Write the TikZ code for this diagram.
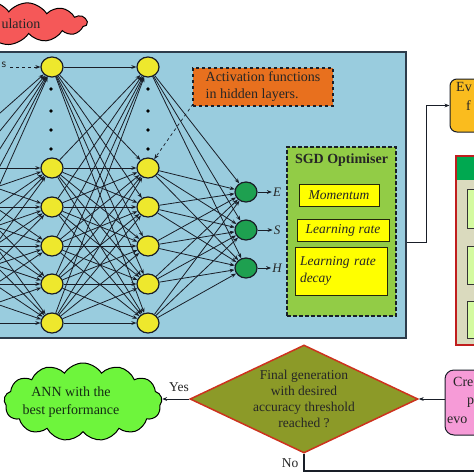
\documentclass[tikz,border=0pt]{standalone}
\usepackage{fontspec}
\setmainfont{Liberation Serif}
\usetikzlibrary{shapes.geometric,shapes.symbols,arrows.meta,calc}
\definecolor{panelblue}{RGB}{153,204,222}
\definecolor{panelborder}{RGB}{45,60,75}
\definecolor{nodeyellow}{RGB}{238,232,45}
\definecolor{nodegreen}{RGB}{30,160,80}
\definecolor{actorange}{RGB}{232,112,30}
\definecolor{sgdgreen}{RGB}{146,204,70}
\definecolor{boxyellow}{RGB}{255,255,0}
\definecolor{evalorange}{RGB}{250,188,30}
\definecolor{redborder}{RGB}{192,30,30}
\definecolor{beige}{RGB}{218,218,190}
\definecolor{headergreen}{RGB}{0,168,80}
\definecolor{lightgreen}{RGB}{212,250,160}
\definecolor{pinkbox}{RGB}{246,155,215}
\definecolor{olive}{RGB}{140,154,40}
\definecolor{diaborder}{RGB}{205,50,30}
\definecolor{cloudgreen}{RGB}{110,245,60}
\definecolor{cloudred}{RGB}{245,88,88}
\definecolor{ink}{RGB}{25,30,40}
\pgfdeclarelayer{bg}
\pgfdeclarelayer{edges}
\pgfsetlayers{bg,edges,main}
\begin{document}
\begin{tikzpicture}[x=1pt,y=-1pt,
  txt/.style={font=\fontsize{13.5}{16.5}\selectfont, text=black!85},
  hid/.style={ellipse, draw=ink, line width=1.2pt, fill=nodeyellow, minimum width=22pt, minimum height=20pt, inner sep=0pt},
  outn/.style={ellipse, draw=ink, line width=1.2pt, fill=nodegreen, minimum width=22pt, minimum height=20pt, inner sep=0pt},
  arr/.style={-{Stealth[length=5pt,width=3.8pt]}, line width=0.8pt, draw=ink},
  dotn/.style={circle, fill=black, inner sep=0pt, minimum size=3.6pt},
  ybox/.style={draw=black!75!olive, line width=1pt, fill=boxyellow, inner sep=0pt, txt, font=\fontsize{13.5}{16.5}\selectfont\itshape},
  gbox/.style={draw=black!80, line width=0.8pt, fill=lightgreen, inner sep=0pt, minimum width=63pt},
]
\useasboundingbox (0,0) rectangle (474,474);

% ---------------- background layer ----------------
\begin{pgfonlayer}{bg}
\begin{scope}
\clip (0,0) rectangle (474,474);
\fill[white] (0,0) rectangle (474,474);
\node[draw=panelborder, line width=1.6pt, fill=panelblue, minimum width=416pt, minimum height=286pt, inner sep=0pt] (panel) at (198,195) {};
\end{scope}
\end{pgfonlayer}

% ---------------- nodes ----------------
\begin{scope}
\clip (0,0) rectangle (474,474);
\foreach \y [count=\i] in {67,168,207,246,284,323} {
  \node[hid] (a\i) at (52,\y) {};
  \node[hid] (b\i) at (148,\y) {};
}
\foreach \y [count=\i] in {168,207,246,284,323} {
  \coordinate (in\i) at (-62,\y);
}
\foreach \y [count=\i] in {89,111,130,149} {
  \node[dotn] (da\i) at (51,\y) {};
  \node[dotn] (db\i) at (148,\y) {};
}
\foreach \y/\l [count=\i] in {192/E,230/S,268/H} {
  \node[outn] (o\i) at (246,\y) {};
  \node[txt, font=\fontsize{13}{14}\selectfont\itshape, inner sep=1pt] (l\i) at (277,\y) {\l};
}

% input label
\node[txt, font=\fontsize{12}{14}\selectfont\sffamily, inner sep=0pt] (inlab) at (4,65) {s};
\coordinate (inarrow) at (10,67);

% activation box
\node[draw=ink, dashed, line width=1.2pt, fill=actorange, minimum width=140pt, minimum height=38pt, inner sep=0pt,
      txt, font=\fontsize{14}{17}\selectfont, align=left] (act) at (263,87) {Activation functions\\in hidden layers.};
\coordinate (actcorner) at (193,104);

% SGD box
\node[draw=ink, line width=1.6pt, dash pattern=on 4pt off 2pt, fill=sgdgreen, minimum width=109pt, minimum height=169pt, inner sep=0pt] (sgd) at (341.5,231.5) {};
\node[txt, font=\fontsize{14}{16}\selectfont\bfseries] (sgdt) at (341.5,160) {SGD Optimiser};
\node[ybox, minimum width=80pt, minimum height=22pt] (mom) at (339,195) {Momentum};
\node[ybox, minimum width=92pt, minimum height=22pt] (lr) at (343,230) {Learning rate};
\node[ybox, minimum width=92pt, minimum height=48pt, align=left, text width=82pt] (lrd) at (341,271) {Learning rate\\decay};

% evaluation box
\node[draw=ink, line width=1pt, fill=evalorange, rounded corners=7pt, minimum width=80pt, minimum height=53pt] (eval) at (490,105.5) {};
\node[txt, anchor=north west, align=left, inner sep=0pt, font=\fontsize{14}{19}\selectfont] (evalt) at (456,82) {Ev\\\hspace*{10pt}f};

% red box
\node[draw=redborder, line width=1.3pt, fill=beige, minimum width=74pt, minimum height=189pt, inner sep=0pt] (redbox) at (493,250.5) {};
\node[fill=headergreen, minimum width=73pt, minimum height=23pt, inner sep=0pt] (header) at (493.5,168.5) {};
\draw[redborder, line width=1.3pt] (redbox.north west) rectangle (redbox.south east);
\node[gbox, minimum height=39pt] (g1) at (498.5,208.5) {};
\node[gbox, minimum height=38pt] (g2) at (498.5,265) {};
\node[gbox, minimum height=37pt] (g3) at (498.5,319.5) {};

% pink box
\node[draw=ink, line width=1pt, fill=pinkbox, rounded corners=9pt, minimum width=85pt, minimum height=65pt] (pink) at (487.5,402.5) {};
\node[txt, anchor=north west, align=left, inner sep=0pt, font=\fontsize{14}{18.5}\selectfont] (pinkt) at (447,377) {\hspace*{6pt}Cre\\\hspace*{20pt}p\\evo};

% decision diamond
\node[diamond, draw=diaborder, line width=1.5pt, fill=olive, minimum width=228pt, minimum height=108pt, aspect=2.11, inner sep=0pt,
      label={[txt, align=center, font=\fontsize{13.5}{16}\selectfont]center:Final generation\\with desired\\accuracy threshold\\reached ?}] (dia) at (304,399) {};

% clouds
\node[cloud, draw=black, line width=1pt, fill=cloudgreen, cloud puffs=13, cloud puff arc=115, minimum width=158pt, minimum height=78pt, inner sep=0pt] (gcloud) at (83,402) {};
\node[txt, align=center, font=\fontsize{14}{17.5}\selectfont, text={rgb,255:red,20;green,45;blue,20}] (gtext) at (71,402) {ANN with the\\best performance};
\node[cloud, draw=black, line width=1pt, fill=cloudred, cloud puffs=15, cloud puff arc=110, minimum width=198pt, minimum height=44pt, inner sep=0pt] (rcloud) at (-12,23) {};
\node[txt, font=\fontsize{14}{16}\selectfont] (rtext) at (21,24) {ulation};

\node[txt] (yes) at (179,387) {Yes};
\node[txt] (no) at (290,463) {No};
\coordinate (noend) at (480,471);
\end{scope}

% ---------------- edges ----------------
\begin{pgfonlayer}{edges}
\begin{scope}
\clip (0,0) rectangle (474,474);
\foreach \i in {1,...,5}{\foreach \j in {1,...,6}{\draw[arr] (in\i) -- (a\j);}}
\foreach \i in {1,...,6}{\foreach \j in {1,...,6}{\draw[arr] (a\i) -- (b\j);}}
\foreach \i in {1,...,6}{\foreach \j in {1,...,3}{\draw[arr] (b\i) -- (o\j);}}
\end{scope}
\end{pgfonlayer}

\draw[arr, dashed, line width=0.6pt] (inarrow) -- (a1);
\draw[arr, dashed, line width=0.7pt] (actcorner) -- (b2);
\foreach \j in {1,2,3}{\draw[arr, line width=0.6pt] (o\j) -- (l\j);}
\draw[arr, line width=0.9pt] ($(panel.east)+(0,47)$) -- ++(20,0) |- (eval.west);
\draw[arr, line width=0.9pt] (dia.east -| pink.west) -- (dia.east);
\draw[arr, line width=0.9pt] (dia.west) -- (gcloud.east |- dia.west);
\draw[ink, line width=1.4pt] (dia.south) |- (noend);
\end{tikzpicture}
\end{document}
